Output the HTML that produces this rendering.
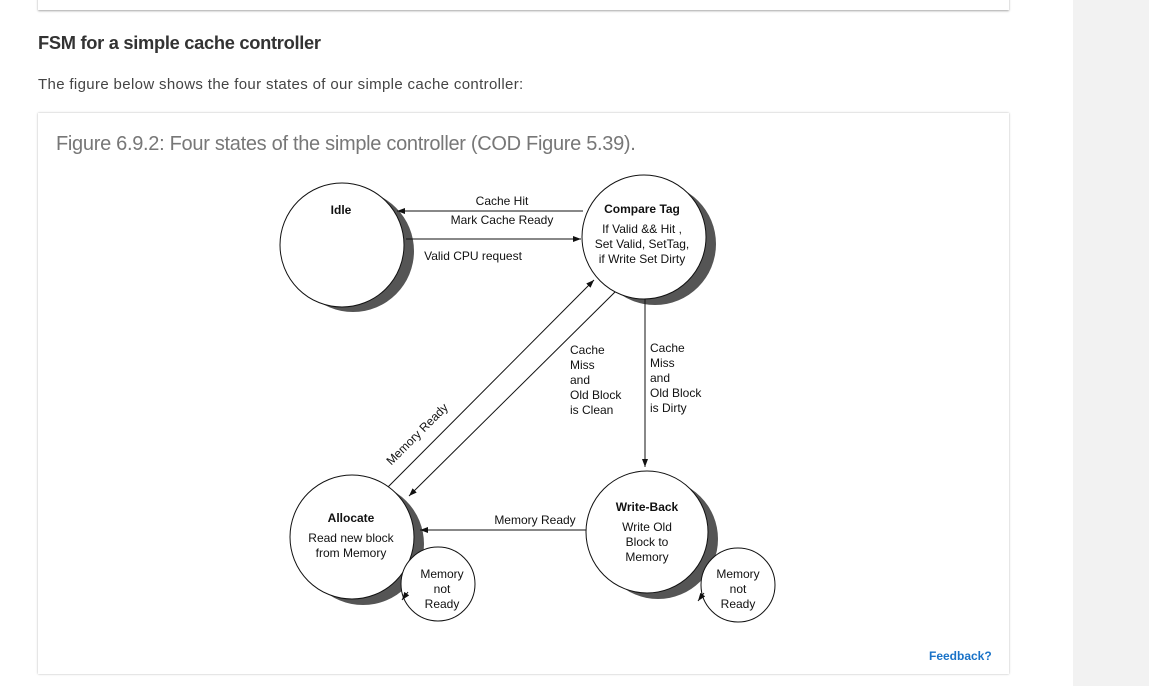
<!DOCTYPE html>
<html><head><style>
body{margin:0;width:1149px;height:686px;background:#fff;position:relative;overflow:hidden;font-family:"Liberation Sans",sans-serif}
.side{position:absolute;left:1073px;top:0;width:76px;height:686px;background:#f2f2f2}
.card1{position:absolute;left:38px;top:-10px;width:971px;height:20px;background:#fff;box-shadow:0 1px 2px rgba(0,0,0,.35)}
h3{position:absolute;left:38px;top:32px;margin:0;font-size:18.3px;font-weight:bold;color:#333;letter-spacing:-0.3px}
.p{position:absolute;left:38px;top:76px;font-size:15px;color:#444;letter-spacing:0.35px}
.fig{position:absolute;left:38px;top:113px;width:971px;height:561px;background:#fff;box-shadow:0 0 2px rgba(0,0,0,.3)}
.cap{position:absolute;left:56px;top:133px;font-size:20px;color:#777;letter-spacing:-0.3px}
.fb{position:absolute;left:929px;top:649px;font-size:12px;font-weight:bold;color:#1a73c8}
svg{position:absolute;left:0;top:0}
svg text{font-family:"Liberation Sans",sans-serif;font-size:12px;fill:#111}
</style></head><body>
<div class="side"></div>
<div class="card1"></div>
<h3>FSM for a simple cache controller</h3>
<div class="p">The figure below shows the four states of our simple cache controller:</div>
<div class="fig"></div>
<div class="cap">Figure 6.9.2: Four states of the simple controller (COD Figure 5.39).</div>
<div class="fb">Feedback?</div>
<svg width="1149" height="686">
<defs><marker id="a" markerWidth="8" markerHeight="6" refX="8" refY="3" orient="auto" markerUnits="userSpaceOnUse"><path d="M0,0L8,3L0,6z" fill="#111"/></marker></defs>
<g stroke="#111" stroke-width="1">
<circle cx="353" cy="251" r="61" fill="#555" stroke="none"/>
<circle cx="342" cy="245" r="62" fill="#fff"/>
<circle cx="655" cy="244" r="61" fill="#555" stroke="none"/>
<circle cx="644" cy="237" r="62" fill="#fff"/>
<circle cx="363" cy="544" r="61" fill="#555" stroke="none"/>
<circle cx="352" cy="537" r="62" fill="#fff"/>
<circle cx="658" cy="539" r="60" fill="#555" stroke="none"/>
<circle cx="647" cy="532" r="61" fill="#fff"/>
<circle cx="438" cy="584" r="37" fill="#fff"/>
<circle cx="738" cy="585" r="37" fill="#fff"/>
<line x1="408" y1="592" x2="402" y2="600" marker-end="url(#a)"/>
<line x1="704" y1="593" x2="698" y2="601" marker-end="url(#a)"/>
<line x1="583" y1="211" x2="397" y2="211" marker-end="url(#a)"/>
<line x1="406" y1="239" x2="581" y2="239" marker-end="url(#a)"/>
<line x1="388" y1="487" x2="594" y2="280" marker-end="url(#a)"/>
<line x1="615" y1="292" x2="409" y2="496" marker-end="url(#a)"/>
<line x1="645" y1="299" x2="645" y2="467" marker-end="url(#a)"/>
<line x1="586" y1="530" x2="420" y2="530" marker-end="url(#a)"/>
</g>
<text x="341" y="214" text-anchor="middle" font-weight="bold">Idle</text>
<text x="642" y="213" text-anchor="middle" font-weight="bold">Compare Tag</text>
<text x="642" y="233" text-anchor="middle">If Valid &amp;&amp; Hit ,</text>
<text x="642" y="248" text-anchor="middle">Set Valid, SetTag,</text>
<text x="642" y="263" text-anchor="middle">if Write Set Dirty</text>
<text x="502" y="205" text-anchor="middle">Cache Hit</text>
<text x="502" y="224" text-anchor="middle">Mark Cache Ready</text>
<text x="473" y="260" text-anchor="middle">Valid CPU request</text>
<text x="570" y="354">Cache</text><text x="570" y="369">Miss</text><text x="570" y="384">and</text><text x="570" y="399">Old Block</text><text x="570" y="414">is Clean</text>
<text x="650" y="352">Cache</text><text x="650" y="367">Miss</text><text x="650" y="382">and</text><text x="650" y="397">Old Block</text><text x="650" y="412">is Dirty</text>
<text transform="translate(420,437) rotate(-45)" text-anchor="middle">Memory Ready</text>
<text x="351" y="522" text-anchor="middle" font-weight="bold">Allocate</text>
<text x="351" y="542" text-anchor="middle">Read new block</text>
<text x="351" y="557" text-anchor="middle">from Memory</text>
<text x="647" y="511" text-anchor="middle" font-weight="bold">Write-Back</text>
<text x="647" y="531" text-anchor="middle">Write Old</text>
<text x="647" y="546" text-anchor="middle">Block to</text>
<text x="647" y="561" text-anchor="middle">Memory</text>
<text x="535" y="524" text-anchor="middle">Memory Ready</text>
<text x="442" y="578" text-anchor="middle">Memory</text><text x="442" y="593" text-anchor="middle">not</text><text x="442" y="608" text-anchor="middle">Ready</text>
<text x="738" y="578" text-anchor="middle">Memory</text><text x="738" y="593" text-anchor="middle">not</text><text x="738" y="608" text-anchor="middle">Ready</text>
</svg>
</body></html>
